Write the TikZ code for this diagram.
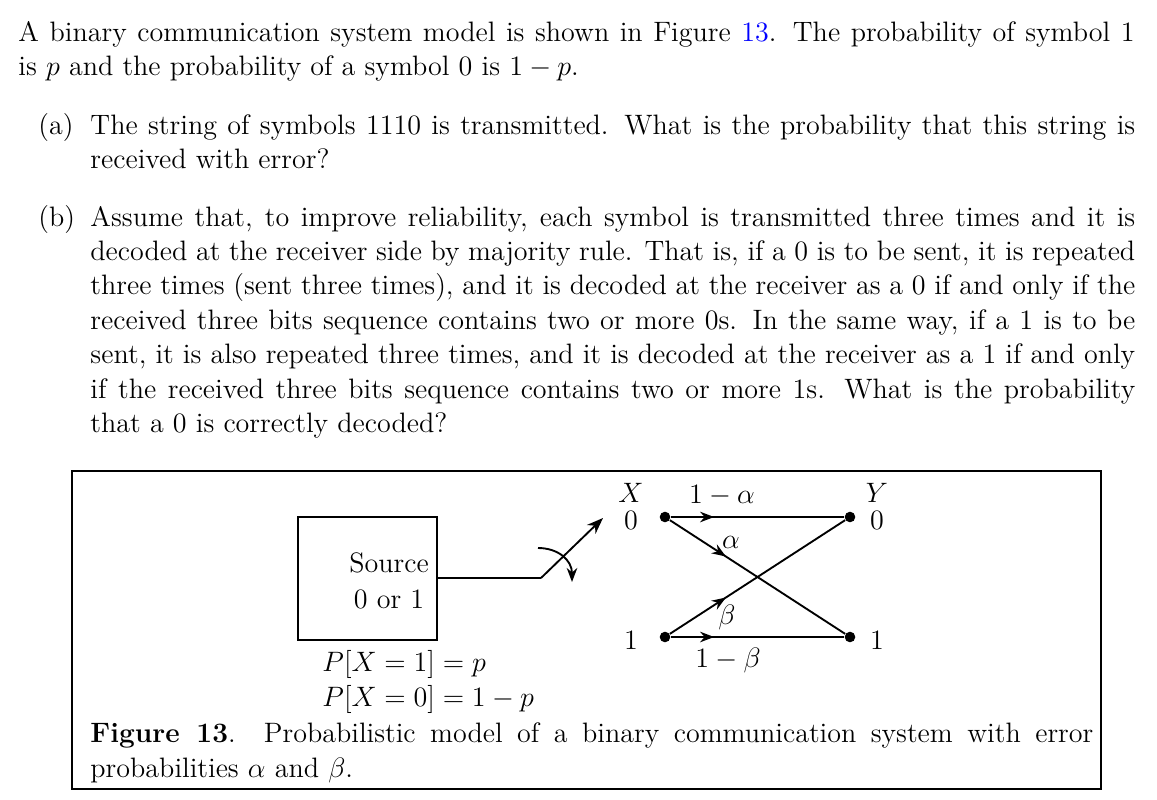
\documentclass[tikz,border=0pt,12pt]{standalone}
\usetikzlibrary{arrows.meta,decorations.markings}
\begin{document}
\begin{tikzpicture}[x=0.42735pt,y=-0.42735pt,
  ln/.style={anchor=base west,inner sep=0pt},
  lb/.style={inner sep=0.5pt},
  w/.style={line width=0.8pt},
  mid/.style={w,postaction={decorate},decoration={markings,mark=at position #1 with {\arrow{Stealth[length=6pt]}}}},
  dot/.style={circle,fill,inner sep=1.6pt}]
\useasboundingbox (0,0) rectangle (1157,799);
\def\J#1#2{\makebox[#1pt][s]{#2}}
\node[ln] (l1) at (18,41) {\J{477}{A binary communication system model is shown in Figure \textcolor{blue}{13}. The probability of symbol 1}};
\node[ln] (l2) at (18,75) {is $p$ and the probability of a symbol 0 is $1-p$.};
\node[ln] (a0) at (38,134) {(a)};
\node[ln] (a1) at (90,134) {\J{446.5}{The string of symbols 1110 is transmitted. What is the probability that this string is}};
\node[ln] (a2) at (90,168) {received with error?};
\node[ln] (b0) at (38,226) {(b)};
\node[ln] (b1) at (90,226) {\J{446.5}{Assume that, to improve reliability, each symbol is transmitted three times and it is}};
\node[ln] (b2) at (90,260) {\J{446.5}{decoded at the receiver side by majority rule. That is, if a 0 is to be sent, it is repeated}};
\node[ln] (b3) at (90,294) {\J{446.5}{three times (sent three times), and it is decoded at the receiver as a 0 if and only if the}};
\node[ln] (b4) at (90,329) {\J{446.5}{received three bits sequence contains two or more 0s. In the same way, if a 1 is to be}};
\node[ln] (b5) at (90,363) {\J{446.5}{sent, it is also repeated three times, and it is decoded at the receiver as a 1 if and only}};
\node[ln] (b6) at (90,398) {\J{446.5}{if the received three bits sequence contains two or more 1s. What is the probability}};
\node[ln] (b7) at (90,432) {that a 0 is correctly decoded?};
% figure frame
\draw[line width=0.6pt] (72,471) rectangle (1101,789);
\node[draw,w,minimum width=139*0.42735pt,minimum height=123*0.42735pt,inner sep=0pt] (src) at (367.5,578.5) {};
\node (s1) at (389,563) {Source};
\node (s2) at (389,599) {0 or 1};
\coordinate (k) at (541,578);
\coordinate (sw) at (603,518);
\draw[w] (src.east|-k) -- (k);
\draw[w,-{Stealth[length=7pt]}] (k) -- (sw);
\coordinate (c1) at (538,548);
\coordinate (c2) at (572,582);
\draw[w,-{Stealth[length=6pt]}] (c1) .. controls (558,548) and (572,560) .. (c2);
\node[dot] (x0) at (665,517) {};
\node[dot] (x1) at (665,637) {};
\node[dot] (y0) at (850,517) {};
\node[dot] (y1) at (850,637) {};
\node[lb] (lx) at (631,493) {$X$};
\node[lb] (lx0) at (631,520) {0};
\node[lb] (lx1) at (631,640) {1};
\node[lb] (ly) at (877,493) {$Y$};
\node[lb] (ly0) at (877,520) {0};
\node[lb] (ly1) at (877,640) {1};
\draw[mid=0.25] (x0) -- (y0);
\draw[mid=0.25] (x1) -- (y1);
\draw[mid=0.32] (x0) -- (y1);
\draw[mid=0.32] (x1) -- (y0);
\node (t1) at (722,496) {$1-\alpha$};
\node (t2) at (731,542) {$\alpha$};
\node (t3) at (727,617) {$\beta$};
\node (t4) at (728,660) {$1-\beta$};
\node[ln] (p1) at (322,671) {$P[X=1]=p$};
\node[ln] (p2) at (322,706) {$P[X=0]=1-p$};
\node[ln] (cap1) at (90,742) {\J{428.6}{\textbf{Figure 13}. Probabilistic model of a binary communication system with error}};
\node[ln] (cap2) at (90,777) {probabilities $\alpha$ and $\beta$.};
\end{tikzpicture}
\end{document}
